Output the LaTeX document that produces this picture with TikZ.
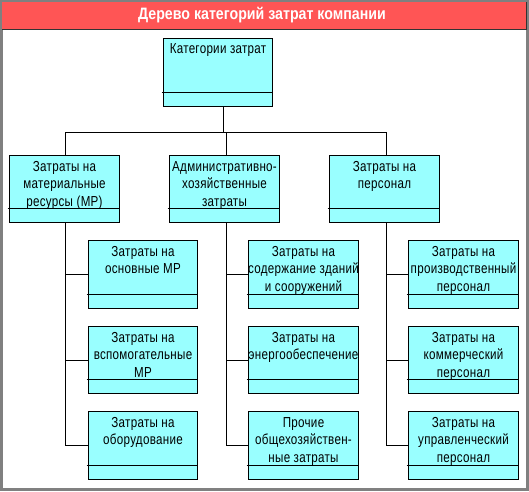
\documentclass[tikz,border=0pt]{standalone}
\usepackage{fontspec}
\setmainfont{Liberation Sans}
\newfontfamily\boxfont[FakeStretch=0.8,LetterSpace=2]{Liberation Sans}
\newfontfamily\titlefont[FakeStretch=0.86]{Liberation Sans}
\definecolor{boxcyan}{HTML}{99FFFF}
\definecolor{titlered}{HTML}{FF5555}
\definecolor{framegray}{HTML}{808080}
\newcommand\fl{\rule{0pt}{16pt}}
\begin{document}
\begin{tikzpicture}[x=1pt,y=-1pt,
  box/.style={draw=black, line width=1pt, fill=boxcyan, minimum width=110pt,
    minimum height=68pt, inner sep=0pt, anchor=north west},
  btext/.style={anchor=north, inner sep=0pt, align=center,
    font=\boxfont\fontsize{14.5}{17.5}\selectfont},
  conn/.style={draw=black, line width=1pt}]
\useasboundingbox (0,0) rectangle (529,491);
% frame and title
\draw[framegray, line width=3pt, fill=white] (1.5,1.5) rectangle (527.5,489.5);
\node[fill=titlered, minimum width=524pt, minimum height=27pt,
  inner sep=0pt, anchor=north west] (title) at (2,2) {};
\draw[black!80, line width=1pt] (title.south west) -- (title.south east) -- (title.north east);
\node[text=white, font=\titlefont\bfseries\fontsize{16.5}{18}\selectfont] (titletext)
  at (262,15.5) {Дерево категорий затрат компании};
% boxes
\node[box, minimum width=109pt] (root) at (163,38) {};
\node[box, minimum height=67pt] (a) at (9,155) {};
\node[box, minimum height=67pt] (b) at (169,155) {};
\node[box, minimum height=67pt] (c) at (329,155) {};
\node[box, minimum width=109pt] (a1) at (88,240) {};
\node[box, minimum width=109pt, minimum height=67pt] (a2) at (88,326) {};
\node[box, minimum width=109pt] (a3) at (88,411) {};
\node[box] (b1) at (248,240) {};
\node[box, minimum height=67pt] (b2) at (248,326) {};
\node[box] (b3) at (248,411) {};
\node[box] (c1) at (408,240) {};
\node[box, minimum height=67pt] (c2) at (408,326) {};
\node[box] (c3) at (408,411) {};
% texts
\node[btext, yshift=1pt] (root-t) at (root.north) {\fl Категории затрат};
\node[btext] (a-t) at (a.north) {\fl Затраты на\\материальные\\ресурсы (МР)};
\node[btext] (b-t) at (b.north) {\fl Административно-\\хозяйственные\\затраты};
\node[btext] (c-t) at (c.north) {\fl Затраты на\\персонал};
\node[btext] (a1-t) at (a1.north) {\fl Затраты на\\основные МР};
\node[btext] (a2-t) at (a2.north) {\fl Затраты на\\вспомогательные\\МР};
\node[btext] (a3-t) at (a3.north) {\fl Затраты на\\оборудование};
\node[btext] (b1-t) at (b1.north) {\fl Затраты на\\содержание зданий\\и сооружений};
\node[btext] (b2-t) at (b2.north) {\fl Затраты на\\энергообеспечение};
\node[btext] (b3-t) at (b3.north) {\fl Прочие\\общехозяйствен-\\ные затраты};
\node[btext] (c1-t) at (c1.north) {\fl Затраты на\\производственный\\персонал};
\node[btext] (c2-t) at (c2.north) {\fl Затраты на\\коммерческий\\персонал};
\node[btext] (c3-t) at (c3.north) {\fl Затраты на\\управленческий\\персонал};
% dividers
\foreach \n in {root,a,b,c,a1,a2,a3,b1,b2,b3,c1,c2,c3}
  \draw[conn] ([xshift=-1.5pt,yshift=15pt]\n.south west) -- ([yshift=15pt]\n.south east);
% connectors
\coordinate (jr) at (223,132);
\coordinate (ja) at (65,132);
\coordinate (jb) at (226,132);
\coordinate (jc) at (386,132);
\draw[conn] (root.south -| jr) -- (jr);
\draw[conn] (a.north -| ja) -- (ja) -- (jc) -- (c.north -| jc);
\draw[conn] (jb) -- (b.north -| jb);
\draw[conn] (a.south -| ja) |- (a3.west);
\draw[conn] (b.south -| jb) |- (b3.west);
\draw[conn] (c.south -| jc) |- (c3.west);
\draw[conn] (a1.west) -- (a1.west -| ja);
\draw[conn] (a2.west) -- (a2.west -| ja);
\draw[conn] (b1.west) -- (b1.west -| jb);
\draw[conn] (b2.west) -- (b2.west -| jb);
\draw[conn] (c1.west) -- (c1.west -| jc);
\draw[conn] (c2.west) -- (c2.west -| jc);
\end{tikzpicture}
\end{document}
